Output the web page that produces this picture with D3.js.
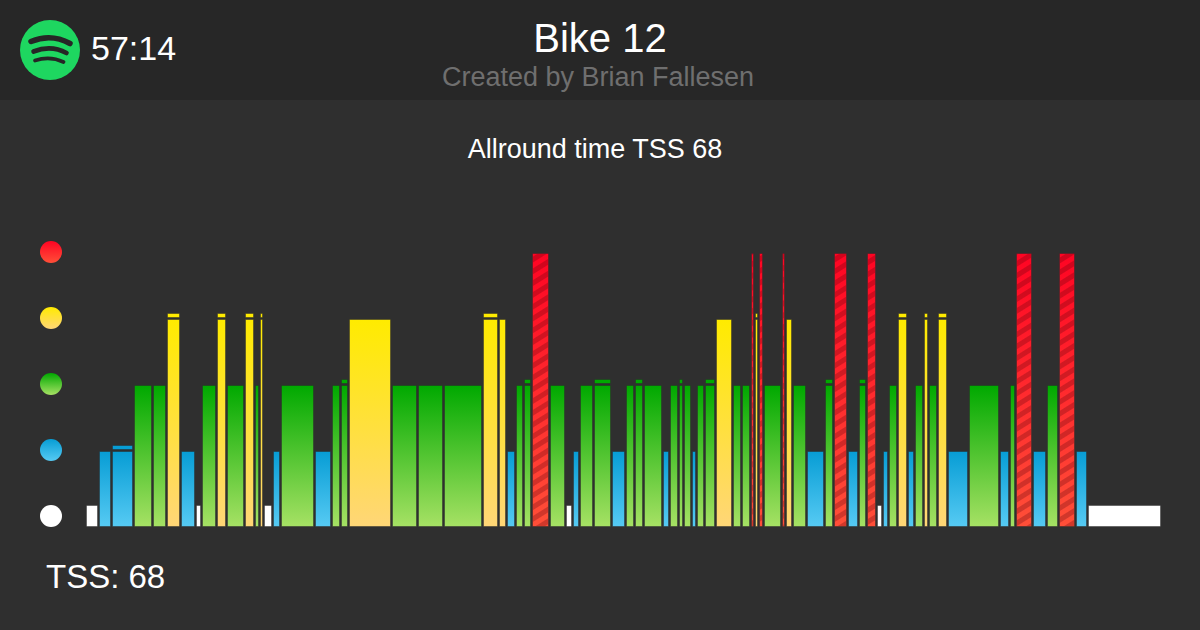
<!DOCTYPE html>
<html>
<head>
<meta charset="utf-8">
<script src="https://cdn.jsdelivr.net/npm/d3@7"></script>
<style>
  html, body { margin: 0; padding: 0; background: #2f2f2f; }
  svg { display: block; }
</style>
</head>
<body>
<svg id="chart" width="1200" height="630"></svg>
<script>
// ---- data ----
const title = "Bike 12";
const subtitle = "Created by Brian Fallesen";
const duration = "57:14";
const workoutName = "Allround time TSS 68";
const tssLabel = "TSS: 68";

// zone per interval: 1 = white, 2 = blue, 3 = green, 4 = yellow, 5 = red
const zones = [
  1,2,2,3,3,4,2,1,3,4,
  3,4,3,4,1,2,3,2,3,3,
  4,3,3,3,4,4,2,3,3,5,
  3,1,2,3,3,2,3,3,3,2,
  3,3,3,2,3,3,4,3,3,5,
  4,5,3,5,4,3,2,3,5,2,
  3,5,1,2,3,4,2,3,4,3,
  4,2,3,2,3,5,2,3,5,2,1
];
// interval duration in seconds
const durations = [
  41,41,70,61,45,45,48,19,48,32,
  57,32,16,13,29,26,108,54,29,26,
  137,83,83,124,51,26,29,26,26,57,
  51,22,22,45,57,45,29,29,61,22,
  29,16,26,16,26,35,54,29,29,13,
  13,16,57,13,22,45,57,29,45,35,
  26,32,19,19,29,32,22,29,16,29,
  32,67,96,35,19,54,45,38,54,38,236
];
// 1 = interval slightly above its zone (small cap on top)
const caps = [
  0,0,1,0,0,1,0,0,0,1,
  0,1,0,1,0,0,0,0,0,1,
  0,0,0,0,1,0,0,0,1,0,
  0,0,0,0,1,0,0,1,0,0,
  0,1,0,0,0,1,0,0,0,0,
  1,0,0,0,0,0,0,1,0,0,
  1,0,0,0,0,1,0,0,1,0,
  1,0,0,0,0,0,0,0,0,0,0
];
const legendZones = [5,4,3,2,1];

// ---- drawing ----
const svg = d3.select("#chart");
const font = "'Liberation Sans', Arial, sans-serif";

const defs = svg.append("defs");
const grads = {
  1: ["#ffffff", "#ffffff"],
  2: ["#079dd5", "#56caf3"],
  3: ["#00a900", "#a6e164"],
  4: ["#ffeb00", "#ffd677"],
  5: ["#ff0423", "#ff4f38"]
};
Object.entries(grads).forEach(([k, c]) => {
  const g = defs.append("linearGradient").attr("id", "g" + k)
    .attr("x1", 0).attr("y1", 0).attr("x2", 0).attr("y2", 1);
  g.append("stop").attr("offset", "0%").attr("stop-color", c[0]);
  g.append("stop").attr("offset", "100%").attr("stop-color", c[1]);
});
const pat = defs.append("pattern").attr("id", "stripes")
  .attr("patternUnits", "userSpaceOnUse")
  .attr("width", 10).attr("height", 10)
  .attr("patternTransform", "rotate(-32)");
pat.append("rect").attr("x", 0).attr("y", 0).attr("width", 10).attr("height", 5)
  .attr("fill", "rgba(90,0,10,0.28)");

// background
svg.append("rect").attr("width", 1200).attr("height", 630).attr("fill", "#2f2f2f");
svg.append("rect").attr("width", 1200).attr("height", 100).attr("fill", "#272727");

// spotify logo
const logo = svg.append("g");
logo.append("circle").attr("cx", 50).attr("cy", 50).attr("r", 30).attr("fill", "#1ed760");
[
  ["M31,41.5 Q51,33 70,43.5", 5.5],
  ["M33.5,51.5 Q51,44.5 66.5,53", 4.6],
  ["M35,60.5 Q50,55.5 63.5,62", 3.8]
].forEach(([d, w]) => {
  logo.append("path").attr("d", d).attr("fill", "none")
    .attr("stroke", "#262626").attr("stroke-width", w).attr("stroke-linecap", "round");
});

svg.append("text").attr("x", 91).attr("y", 60).text(duration)
  .attr("font-family", font).attr("font-size", 34).attr("fill", "#ffffff");
svg.append("text").attr("x", 600).attr("y", 52).attr("text-anchor", "middle").text(title)
  .attr("font-family", font).attr("font-size", 40).attr("fill", "#ffffff");
svg.append("text").attr("x", 598).attr("y", 86).attr("text-anchor", "middle").text(subtitle)
  .attr("font-family", font).attr("font-size", 27).attr("fill", "#6f6f6f");
svg.append("text").attr("x", 595).attr("y", 158).attr("text-anchor", "middle").text(workoutName)
  .attr("font-family", font).attr("font-size", 27).attr("fill", "#ffffff");
svg.append("text").attr("x", 46).attr("y", 588).text(tssLabel)
  .attr("font-family", font).attr("font-size", 33).attr("fill", "#ffffff");

// scales
const starts = [];
let acc = 0;
durations.forEach(d => { starts.push(acc); acc += d; });
const total = acc;
const x = d3.scaleLinear().domain([0, total]).range([86, 1162]);
const y = d3.scaleLinear().domain([0, 1, 2, 5]).range([527, 505, 451, 253]);
const yLegend = d3.scalePoint().domain(legendZones).range([252, 516]);

const data = zones.map((z, i) => ({
  zone: z, cap: caps[i], t0: starts[i], t1: starts[i] + durations[i]
}));

const bars = svg.append("g");
data.forEach(d => {
  const a = Math.round(x(d.t0)), b = Math.round(x(d.t1));
  const w = Math.max(b - a - 2, 1);
  const top = Math.round(y(d.zone));
  const g = bars.append("g");
  g.append("rect")
    .attr("x", a + 0.5).attr("y", top + 0.5)
    .attr("width", w).attr("height", y(0) - top - 1)
    .attr("fill", `url(#g${d.zone})`)
    .attr("stroke", d.zone === 1 ? "rgba(0,0,0,0.3)" : "rgba(40,40,40,0.45)")
    .attr("stroke-width", 1);
  if (d.zone === 5) {
    g.append("rect")
      .attr("x", a + 1).attr("y", top + 1)
      .attr("width", Math.max(w - 1, 0)).attr("height", y(0) - top - 2)
      .attr("fill", "url(#stripes)");
  }
  if (d.cap) {
    g.append("rect")
      .attr("x", a + 0.5).attr("y", top - 6 + 0.5)
      .attr("width", w).attr("height", 4)
      .attr("fill", grads[d.zone][0])
      .attr("stroke", "rgba(40,40,40,0.45)").attr("stroke-width", 1);
  }
});

// legend dots
svg.append("g").selectAll("circle").data(legendZones).join("circle")
  .attr("cx", 51).attr("cy", d => yLegend(d)).attr("r", 11)
  .attr("fill", d => `url(#g${d})`);
</script>
</body>
</html>
